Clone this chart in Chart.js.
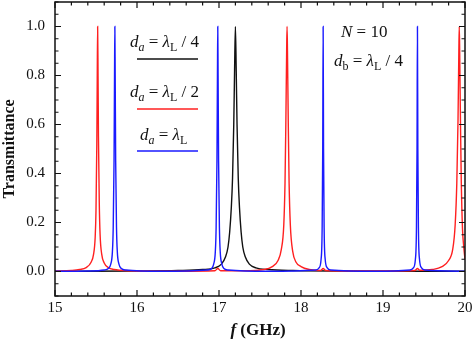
<!DOCTYPE html>
<html lang="en">
<head>
    <meta charset="UTF-8">
    <title>Transmittance vs frequency</title>
    <script src="https://cdn.jsdelivr.net/npm/chart.js"></script>
    <style>
        body { margin: 0; background: #fff; }
    </style>
</head>
<body>
    <canvas id="myChart" width="474" height="347"></canvas>

    <script>
        // tick labels
        var xTicks = [15, 16, 17, 18, 19, 20];
        var yTicks = [0, 0.2, 0.4, 0.6, 0.8, 1.0];

        // d_a = lambda_L / 4 (black)
        var blackF = [15.0, 16.0, 16.5, 16.8, 16.95, 17.03, 17.08, 17.11, 17.13, 17.15, 17.165, 17.18, 17.19, 17.2,
                      17.21, 17.22, 17.235, 17.25, 17.27, 17.29, 17.32, 17.37, 17.45, 17.6, 17.9, 18.5, 20.0];
        var blackT = [0.001, 0.002, 0.004, 0.008, 0.015, 0.03, 0.06, 0.1, 0.16, 0.26, 0.38, 0.6, 0.82, 1.0,
                      0.82, 0.6, 0.38, 0.26, 0.16, 0.1, 0.06, 0.03, 0.015, 0.008, 0.004, 0.002, 0.001];

        // d_a = lambda_L / 2 (red)
        var redF = [15.0, 15.2, 15.3, 15.38, 15.44, 15.47, 15.49, 15.5, 15.51, 15.515, 15.52, 15.525, 15.53, 15.54,
                    15.55, 15.57, 15.6, 15.65, 15.72, 15.8, 16.0, 16.5, 16.95, 16.985, 17.02, 17.3, 17.55, 17.65,
                    17.72, 17.76, 17.79, 17.805, 17.815, 17.825, 17.83, 17.835, 17.845, 17.855, 17.87, 17.9, 17.94,
                    18.0, 18.1, 18.24, 18.27, 18.3, 18.6, 19.0, 19.39, 19.42, 19.45, 19.6, 19.72, 19.8, 19.85,
                    19.88, 19.9, 19.915, 19.925, 19.93, 19.935, 19.945, 19.955, 19.97, 19.985, 20.0];
        var redT = [0.001, 0.004, 0.008, 0.016, 0.038, 0.07, 0.14, 0.25, 0.52, 0.78, 1.0, 0.8, 0.55, 0.28,
                    0.15, 0.07, 0.035, 0.016, 0.008, 0.005, 0.002, 0.001, 0.003, 0.012, 0.003, 0.003, 0.008, 0.02,
                    0.045, 0.09, 0.19, 0.36, 0.6, 0.9, 1.0, 0.9, 0.6, 0.36, 0.19, 0.08, 0.038,
                    0.02, 0.008, 0.004, 0.012, 0.004, 0.002, 0.002, 0.004, 0.012, 0.005, 0.008, 0.02, 0.045, 0.09,
                    0.19, 0.36, 0.62, 0.9, 1.0, 0.9, 0.6, 0.36, 0.17, 0.1, 0.05];

        // d_a = lambda_L (blue)
        var blueF = [15.0, 15.4, 15.6, 15.65, 15.68, 15.7, 15.71, 15.72, 15.726, 15.73, 15.734, 15.74, 15.75,
                     15.76, 15.78, 15.81, 15.86, 16.3, 16.86, 16.91, 16.935, 16.955, 16.965, 16.975, 16.981,
                     16.985, 16.989, 16.995, 17.005, 17.015, 17.035, 17.06, 17.11, 17.6, 18.18, 18.22, 18.245,
                     18.258, 18.265, 18.27, 18.275, 18.282, 18.295, 18.32, 18.36, 18.9, 19.33, 19.37, 19.395,
                     19.408, 19.415, 19.42, 19.425, 19.432, 19.445, 19.47, 19.51, 20.0];
        var blueT = [0.001, 0.002, 0.006, 0.012, 0.03, 0.08, 0.18, 0.45, 0.8, 1.0, 0.8, 0.45, 0.18,
                     0.08, 0.03, 0.012, 0.006, 0.001, 0.006, 0.012, 0.03, 0.08, 0.18, 0.45, 0.8,
                     1.0, 0.8, 0.45, 0.18, 0.08, 0.03, 0.012, 0.006, 0.001, 0.006, 0.015, 0.05,
                     0.18, 0.5, 1.0, 0.5, 0.18, 0.05, 0.015, 0.006, 0.001, 0.006, 0.015, 0.05,
                     0.18, 0.5, 1.0, 0.5, 0.18, 0.05, 0.015, 0.006, 0.001];

        var serif = '"Liberation Serif", "DejaVu Serif", serif';

        function points(fs, ts) {
            return fs.map(function (f, i) { return { x: f, y: ts[i] }; });
        }

        // draw a string made of several font runs
        function richText(ctx, x, y, parts) {
            parts.forEach(function (p) {
                ctx.font = p[1];
                ctx.fillText(p[0], x, y + (p[2] || 0));
                x += ctx.measureText(p[0]).width;
            });
        }

        var frame = {
            id: 'frame',
            afterDraw: function (chart) {
                var ctx = chart.ctx;
                var a = chart.chartArea;
                var xs = chart.scales.x, ys = chart.scales.y;
                ctx.save();
                ctx.strokeStyle = '#111';
                ctx.lineWidth = 1.5;
                ctx.strokeRect(a.left, a.top, a.right - a.left, a.bottom - a.top);

                // inward ticks, all four sides
                ctx.lineWidth = 1.2;
                ctx.beginPath();
                for (var i = 0; i <= 25; i++) {
                    var v = 15 + i * 0.2;
                    var px = xs.getPixelForValue(v);
                    var len = (i % 5 === 0) ? 6 : 3.5;
                    ctx.moveTo(px, a.bottom); ctx.lineTo(px, a.bottom - len);
                    ctx.moveTo(px, a.top); ctx.lineTo(px, a.top + len);
                }
                for (var j = 0; j <= 24; j++) {
                    var w = -0.1 + j * 0.05;
                    var py = ys.getPixelForValue(w);
                    var major = (j - 2) % 4 === 0;
                    var l2 = major ? 6 : 3.5;
                    ctx.moveTo(a.left, py); ctx.lineTo(a.left + l2, py);
                    ctx.moveTo(a.right, py); ctx.lineTo(a.right - l2, py);
                }
                ctx.stroke();

                // legend-like annotations
                ctx.fillStyle = '#111';
                ctx.textBaseline = 'alphabetic';
                ctx.textAlign = 'left';
                var big = '17px ' + serif, it = 'italic 17px ' + serif;
                var sub = '12px ' + serif, subIt = 'italic 12px ' + serif;
                richText(ctx, 130, 47, [['d', it], ['a', subIt, 4], [' = ', big], ['λ', it], ['L', sub, 4], [' / 4', big]]);
                richText(ctx, 130, 97, [['d', it], ['a', subIt, 4], [' = ', big], ['λ', it], ['L', sub, 4], [' / 2', big]]);
                richText(ctx, 140, 140, [['d', it], ['a', subIt, 4], [' = ', big], ['λ', it], ['L', sub, 4]]);
                richText(ctx, 341, 37, [['N', it], [' = 10', big]]);
                richText(ctx, 334, 66, [['d', it], ['b', sub, 4], [' = ', big], ['λ', it], ['L', sub, 4], [' / 4', big]]);

                ctx.lineWidth = 1.5;
                [['#111', 59], ['#ff2020', 109], ['#1a1aff', 151]].forEach(function (s) {
                    ctx.strokeStyle = s[0];
                    ctx.beginPath();
                    ctx.moveTo(137, s[1]); ctx.lineTo(198, s[1]);
                    ctx.stroke();
                });

                // x axis title with italic f
                var t1 = 'bold italic 17px ' + serif, t2 = 'bold 17px ' + serif;
                ctx.font = t1; var w1 = ctx.measureText('f').width;
                ctx.font = t2; var w2 = ctx.measureText(' (GHz)').width;
                richText(ctx, 258 - (w1 + w2) / 2, 335, [['f', t1], [' (GHz)', t2]]);
                ctx.restore();
            }
        };

        var ctx = document.getElementById('myChart').getContext('2d');
        var myChart = new Chart(ctx, {
            type: 'line',
            data: {
                datasets: [
                    { label: 'd_a = λL', data: points(blueF, blueT), borderColor: '#1a1aff' },
                    { label: 'd_a = λL / 2', data: points(redF, redT), borderColor: '#ff2020' },
                    { label: 'd_a = λL / 4', data: points(blackF, blackT), borderColor: '#111' }
                ]
            },
            options: {
                responsive: false,
                animation: false,
                layout: { padding: { top: 2, right: 9, left: 0, bottom: 0 } },
                elements: {
                    point: { radius: 0 },
                    line: { borderWidth: 1.4, cubicInterpolationMode: 'monotone' }
                },
                plugins: {
                    legend: { display: false },
                    tooltip: { enabled: false }
                },
                scales: {
                    x: {
                        type: 'linear',
                        min: 15, max: 20,
                        afterBuildTicks: function (s) { s.ticks = xTicks.map(function (v) { return { value: v }; }); },
                        afterFit: function (s) { s.height = 51; s.paddingLeft = 0; s.paddingRight = 0; },
                        grid: { display: false, drawTicks: false },
                        border: { display: false },
                        ticks: {
                            autoSkip: false, maxRotation: 0, padding: 3,
                            color: '#111',
                            font: { family: serif, size: 15 }
                        }
                    },
                    y: {
                        min: -0.1, max: 1.1,
                        afterBuildTicks: function (s) { s.ticks = yTicks.map(function (v) { return { value: v }; }); },
                        afterFit: function (s) { s.width = 55; s.paddingTop = 0; s.paddingBottom = 0; },
                        grid: { display: false, drawTicks: false },
                        border: { display: false },
                        title: {
                            display: true,
                            text: 'Transmittance',
                            color: '#111',
                            padding: 0,
                            font: { family: serif, size: 16, weight: 'bold' }
                        },
                        ticks: {
                            padding: 10,
                            color: '#111',
                            font: { family: serif, size: 15 },
                            callback: function (v) { return v.toFixed(1); }
                        }
                    }
                }
            },
            plugins: [frame]
        });
    </script>
</body>
</html>
